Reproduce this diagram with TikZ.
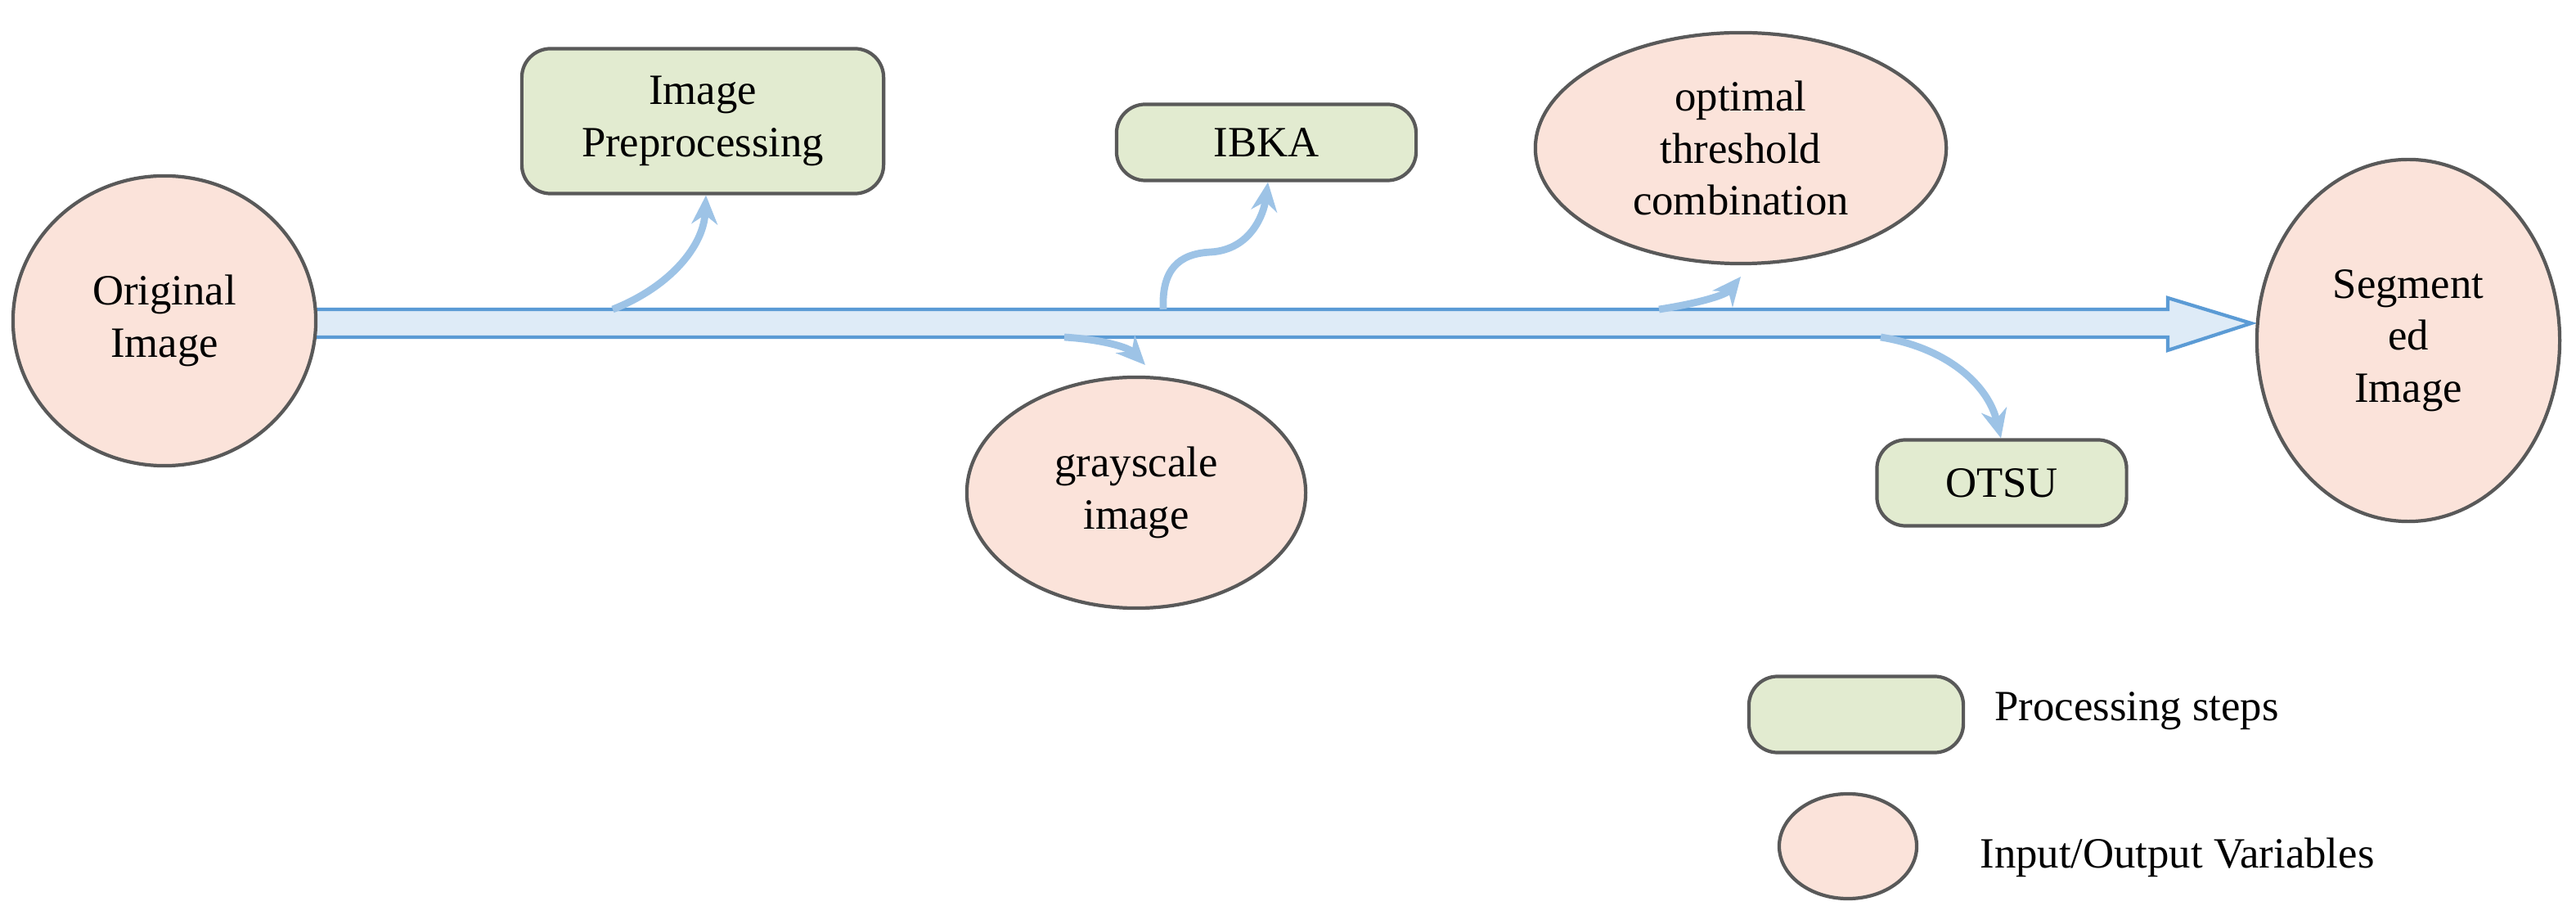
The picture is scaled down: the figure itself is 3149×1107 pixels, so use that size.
\documentclass[tikz,border=0pt]{standalone}
\usepackage{fontspec}
\setmainfont{Liberation Serif}
\usetikzlibrary{shapes.geometric,arrows.meta}
\definecolor{stepfill}{HTML}{E2EBD0}
\definecolor{iofill}{HTML}{FBE3DA}
\definecolor{edge}{HTML}{595959}
\definecolor{flowfill}{HTML}{DEEBF7}
\definecolor{flowline}{HTML}{5B9BD5}
\definecolor{conn}{HTML}{9DC3E6}
\tikzset{
 proc/.style={draw=edge,line width=1.2pt,fill=stepfill,rounded corners=10pt,align=center,font=\fontsize{15}{18}\selectfont},
 io/.style={draw=edge,line width=1.2pt,fill=iofill,ellipse,align=center,inner sep=0pt,font=\fontsize{15}{18}\selectfont},
 lbl/.style={anchor=west,font=\fontsize{15}{18}\selectfont},
 con/.style={draw=conn,line width=2.5pt,-{Stealth[length=10pt,width=9pt]}}
}
\begin{document}
\begin{tikzpicture}[x=0.01cm,y=-0.01cm]
\useasboundingbox (0,0) rectangle (3149,1107);
% main flow arrow
\draw[draw=flowline,fill=flowfill,line width=1.2pt] (382,378) -- (2650,378) -- (2650,364) -- (2752,395) -- (2650,428) -- (2650,412) -- (382,412) -- cycle;
\node[io,minimum width=3.7cm,minimum height=3.54cm] (orig) at (201,392) {Original\\Image};
\node[io,minimum width=3.7cm,minimum height=4.42cm] (seg) at (2944,416) {Segment\\ed\\Image};
\node[io,minimum width=5.02cm,minimum height=2.82cm] (opt) at (2128,181) {optimal\\threshold\\combination};
\node[io,minimum width=4.14cm,minimum height=2.82cm] (gray) at (1389,602) {grayscale\\image};
\node[proc,minimum width=4.42cm,minimum height=1.77cm] (pre) at (859,148) {Image\\Preprocessing};
\node[proc,minimum width=3.66cm,minimum height=0.93cm] (ibka) at (1548,174) {IBKA};
\node[proc,minimum width=3.05cm,minimum height=1.05cm] (otsu) at (2447,590) {OTSU};
\coordinate (a1) at (749,378);
\coordinate (a2) at (1422,378);
\coordinate (a3) at (2028,378);
\coordinate (b1) at (1301,412);
\coordinate (b2) at (2299,412);
\draw[con] (a1) .. controls (820,350) and (860,300) .. (pre.south -| 863,0);
\draw[con] (a2) .. controls (1420,330) and (1440,310) .. (1480,308) .. controls (1530,305) and (1545,260) .. (ibka.south -| 1550,0);
\draw[con] (a3) .. controls (2080,370) and (2110,360) .. (2128,338);
\draw[con] (b1) .. controls (1350,415) and (1380,425) .. (1400,446);
\draw[con] (b2) .. controls (2380,425) and (2430,470) .. (otsu.north -| 2446,0);
% legend
\node[proc,minimum width=2.62cm,minimum height=0.93cm] (lstep) at (2269,873) {};
\node[lbl] (lstept) at (2426,869) {Processing steps};
\node[io,minimum width=1.68cm,minimum height=1.28cm] (lio) at (2259,1034) {};
\node[lbl] (liot) at (2408,1048) {Input/Output Variables};
\end{tikzpicture}
\end{document}
